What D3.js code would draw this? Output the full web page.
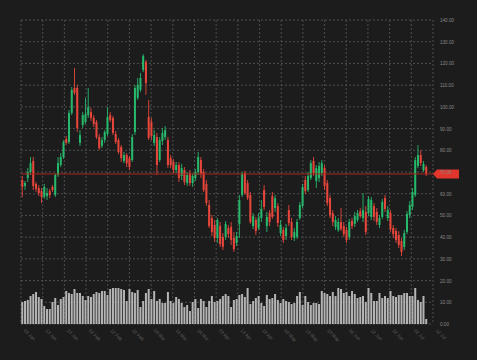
<!DOCTYPE html>
<html>
<head>
<meta charset="utf-8">
<script src="https://cdn.jsdelivr.net/npm/d3@7"></script>
<style>
  html, body { margin: 0; padding: 0; background: #1c1c1c; }
  svg { display: block; }
</style>
</head>
<body>
<div id="chart"></div>
<script>
// daily candles (price units, grid step = 10)
var open = [66.3,63.6,67.2,70.0,75.1,64.5,62.6,61.2,58.5,58.9,
  61.2,63.1,59.4,68.6,73.2,76.9,85.2,83.8,97.2,108.7,
  108.7,83.4,91.6,93.0,96.2,97.6,94.9,93.0,86.1,82.0,
  84.7,87.5,96.2,94.9,87.5,84.7,81.5,75.1,77.8,76.4,
  75.5,88.4,104.1,107.8,117.0,120.7,95.3,93.0,83.4,86.1,
  75.5,84.3,86.1,84.7,76.4,74.6,70.9,73.2,68.2,70.9,
  64.9,69.5,64.9,67.2,70.0,75.5,70.0,64.5,54.8,48.8,
  45.6,39.6,45.1,40.1,40.1,44.2,44.7,39.6,37.3,46.1,
  59.4,69.5,64.9,59.4,45.1,47.9,44.2,48.8,61.7,45.1,
  51.1,58.9,53.4,54.3,41.9,43.3,40.5,52.5,47.0,39.6,
  40.1,48.8,54.3,66.3,61.7,67.2,75.1,65.9,67.2,69.5,
  71.8,64.9,58.0,51.1,44.7,43.3,47.0,45.1,43.3,40.1,
  47.4,46.1,47.9,52.0,48.8,51.6,51.1,49.3,54.3,51.6,
  45.6,49.3,58.0,48.8,51.1,44.2,42.8,41.0,38.2,35.5,
  42.4,50.2,53.9,59.4,72.8,77.8,70.9,72.3]

var close = [63.1,64.9,70.0,74.1,63.6,62.2,60.3,58.5,63.1,60.3,
  59.4,61.7,68.6,74.1,76.9,83.8,83.4,97.2,107.8,106.4,
  90.3,87.0,96.2,96.7,99.9,94.9,92.1,86.1,81.0,84.7,
  88.4,95.3,93.9,88.0,83.8,79.2,76.4,77.8,74.1,72.3,
  86.1,108.7,110.1,113.3,123.4,111.0,85.7,86.6,87.0,73.2,
  84.7,88.0,89.3,73.2,73.2,70.9,73.2,67.2,71.8,65.4,
  68.6,64.9,68.2,70.0,76.9,69.1,61.7,55.7,45.1,42.4,
  39.6,47.9,36.8,35.5,46.1,41.4,38.7,34.5,40.5,57.1,
  69.1,60.3,58.0,47.0,49.7,42.8,48.8,53.0,53.9,49.3,
  47.0,49.3,58.0,46.5,45.6,38.7,44.2,46.5,40.1,42.4,
  47.0,54.8,63.1,61.2,68.2,74.1,69.5,71.8,72.8,74.1,
  63.6,55.7,50.2,47.0,47.9,47.0,43.7,41.4,38.7,47.0,
  45.1,49.7,51.1,49.7,52.5,42.4,57.6,57.1,49.3,47.0,
  48.8,56.2,53.0,52.5,43.7,41.4,38.7,36.4,33.2,41.9,
  50.7,54.8,60.8,75.5,77.8,74.1,73.7,69.1]

var high = [68.2,65.9,71.8,76.9,76.9,65.4,64.0,62.6,64.5,62.6,
  62.2,64.0,69.5,76.9,78.7,84.7,86.6,98.5,109.1,117.9,
  110.1,89.3,97.6,104.1,108.7,99.5,96.2,93.9,87.5,86.1,
  89.3,99.9,97.6,95.8,88.9,85.7,82.4,79.2,78.7,77.4,
  87.5,110.1,113.3,115.6,124.3,121.6,103.2,94.9,89.3,88.0,
  86.1,90.3,91.2,86.1,77.8,76.0,74.6,74.6,73.7,72.3,
  70.0,70.9,69.5,71.4,79.2,76.9,71.4,66.3,57.1,50.2,
  47.9,48.8,47.0,41.9,47.4,45.6,47.0,42.4,42.4,59.4,
  70.0,70.5,66.3,60.8,51.1,49.3,51.1,57.1,64.0,51.6,
  52.5,60.8,59.4,55.7,47.9,44.7,46.1,54.8,48.8,44.2,
  48.4,56.2,64.5,68.2,70.0,75.5,76.9,73.2,74.6,75.5,
  73.2,66.3,59.4,52.5,49.7,48.8,53.4,47.0,44.7,48.4,
  48.8,51.6,52.5,53.4,60.3,54.3,58.9,58.5,55.7,53.4,
  50.2,57.6,59.4,54.3,52.5,45.6,44.2,42.8,39.6,43.3,
  52.0,56.6,62.6,76.9,82.4,80.1,75.1,73.2]

var low = [58.5,61.7,65.4,68.6,61.7,60.8,58.9,55.7,57.6,57.1,
  58.0,60.8,58.5,67.7,72.3,76.0,82.4,82.9,96.2,105.5,
  88.4,82.0,90.3,92.1,94.9,93.5,90.7,85.2,80.1,81.0,
  83.4,86.6,93.0,87.0,82.9,78.3,74.6,74.1,72.3,70.9,
  74.6,87.0,103.2,106.8,116.0,105.5,84.7,84.7,82.0,68.6,
  74.6,82.4,84.7,71.8,71.8,69.5,69.5,65.4,66.3,64.0,
  63.6,63.6,63.1,65.9,68.6,67.2,60.8,54.3,44.2,40.5,
  37.8,37.3,35.5,34.1,38.7,39.6,36.4,33.2,35.9,39.6,
  58.5,59.4,57.1,46.1,43.7,41.0,43.3,47.0,52.5,42.4,
  45.1,48.4,51.6,44.7,40.5,37.3,38.7,45.1,38.7,38.2,
  39.1,47.9,53.4,59.9,60.8,66.3,68.2,62.6,65.4,68.2,
  61.7,54.3,48.8,45.1,43.3,42.4,42.8,40.1,37.3,38.7,
  43.7,44.7,47.0,48.8,47.0,41.0,49.7,47.9,47.4,45.6,
  44.2,48.4,51.6,47.4,42.4,39.6,37.3,35.0,31.3,34.1,
  41.4,48.8,52.5,58.5,71.8,72.8,70.0,68.2]

// volume, thousands
var volume = [22,23,24,28,30,32,27,25,18,15,
  15,22,26,19,25,27,33,31,30,35,
  31,31,28,24,28,27,30,32,31,33,
  33,29,35,36,36,36,35,34,23,35,
  32,31,34,17,23,31,35,25,33,23,
  25,21,21,32,23,21,27,25,21,17,
  19,13,22,25,16,25,23,17,23,28,
  22,23,25,28,30,28,17,24,25,29,
  30,27,36,20,23,26,28,21,18,29,
  25,26,30,24,21,25,23,22,20,21,
  28,32,19,28,22,19,21,21,20,33,
  31,30,28,32,28,36,35,31,32,28,
  33,30,26,27,28,22,36,31,23,23,
  31,26,28,26,33,28,27,29,29,31,
  31,28,28,36,24,22,28,5]

var priceTicks = [0,10,20,30,40,50,60,70,80,90,100,110,120,130,140]
var dateLabels = ['03 Jan','13 Jan','23 Jan','02 Feb','12 Feb','22 Feb','04 Mar','14 Mar',
  '24 Mar','03 Apr','13 Apr','23 Apr','03 May','13 May','23 May','02 Jun',
  '12 Jun','22 Jun','02 Jul','12 Jul']
var lastPrice = 69.1

var WIDTH = 477
var HEIGHT = 360
var margin = { top: 20, right: 44, bottom: 36, left: 21 }
var UP = '#27b86c'
var DOWN = '#e8463b'

var x0 = margin.left
var x1 = WIDTH - margin.right
var y0 = margin.top
var y1 = HEIGHT - margin.bottom

var svg = d3.select('#chart').append('svg')
  .attr('width', WIDTH)
  .attr('height', HEIGHT)
  .style('font-family', 'DejaVu Sans, sans-serif')

svg.append('rect')
  .attr('width', WIDTH)
  .attr('height', HEIGHT)
  .attr('fill', '#1c1c1c')

var candles = d3.range(open.length).map(function (i) {
  return { i: i, o: open[i], c: close[i], h: high[i], l: low[i], v: volume[i] }
})

var x = d3.scaleBand()
  .domain(d3.range(candles.length))
  .range([x0, x1 - 5.5])
  .paddingInner(0.27)
  .paddingOuter(0.1)

var xDate = d3.scalePoint()
  .domain(dateLabels)
  .range([x0, x1])

var y = d3.scaleLinear()
  .domain([0, 140])
  .range([y1, y0])

var yVol = d3.scaleLinear()
  .domain([0, 44])
  .range([y1, y1 - 44])

// dotted grid
var grid = svg.append('g').attr('class', 'grid')
  .attr('stroke', '#4e4e4e')
  .attr('stroke-width', 1)
  .attr('stroke-dasharray', '2,2')

grid.selectAll('line.h').data(priceTicks).enter().append('line')
  .attr('class', 'h')
  .attr('x1', x0).attr('x2', x1)
  .attr('y1', function (d) { return y(d) })
  .attr('y2', function (d) { return y(d) })

grid.selectAll('line.v').data(dateLabels).enter().append('line')
  .attr('class', 'v')
  .attr('y1', y0).attr('y2', y1)
  .attr('x1', function (d) { return xDate(d) })
  .attr('x2', function (d) { return xDate(d) })

// volume
svg.append('g').attr('class', 'volume')
  .selectAll('rect').data(candles).enter().append('rect')
  .attr('x', function (d) { return x(d.i) })
  .attr('width', x.bandwidth())
  .attr('y', function (d) { return yVol(d.v) })
  .attr('height', function (d) { return y1 - yVol(d.v) })
  .attr('fill', '#b4b4b4')

// candles
var cg = svg.append('g').attr('class', 'data')
  .selectAll('g').data(candles).enter().append('g')

cg.append('line')
  .attr('x1', function (d) { return x(d.i) + x.bandwidth() / 2 })
  .attr('x2', function (d) { return x(d.i) + x.bandwidth() / 2 })
  .attr('y1', function (d) { return y(d.h) })
  .attr('y2', function (d) { return y(d.l) })
  .attr('stroke', function (d) { return d.c >= d.o ? UP : DOWN })
  .attr('stroke-width', 0.9)

cg.append('rect')
  .attr('x', function (d) { return x(d.i) })
  .attr('width', x.bandwidth())
  .attr('y', function (d) { return y(Math.max(d.o, d.c)) })
  .attr('height', function (d) { return Math.max(1, Math.abs(y(d.o) - y(d.c))) })
  .attr('fill', function (d) { return d.c >= d.o ? UP : DOWN })

// last price line + marker
svg.append('line')
  .attr('x1', x0).attr('x2', x1)
  .attr('y1', y(lastPrice)).attr('y2', y(lastPrice))
  .attr('stroke', '#a8291f')
  .attr('stroke-width', 1)

var ly = y(lastPrice)
svg.append('path')
  .attr('d', 'M' + x1 + ',' + ly + 'L' + (x1 + 4) + ',' + (ly - 4.5) + 'H' + (WIDTH - 18) +
    'V' + (ly + 4.5) + 'H' + (x1 + 4) + 'Z')
  .attr('fill', '#e2352b')

// price axis on the right
var yAxis = svg.append('g')
  .attr('transform', 'translate(' + x1 + ',0)')
  .call(d3.axisRight(y).tickValues(priceTicks).tickSize(0).tickPadding(7)
    .tickFormat(d3.format('.2f')))
yAxis.select('.domain').remove()
yAxis.selectAll('text')
  .attr('fill', '#8a8a8a')
  .style('font-size', '4.6px')

// date axis, slanted labels
var xAxis = svg.append('g')
  .attr('transform', 'translate(0,' + (y1 + 6) + ')')
  .call(d3.axisBottom(xDate).tickSize(0).tickPadding(0))
xAxis.select('.domain').remove()
xAxis.selectAll('text')
  .attr('x', 0).attr('y', 0).attr('dy', 0)
  .attr('transform', 'translate(2,1) rotate(45)')
  .style('text-anchor', 'start')
  .style('font-size', '4.6px')
  .attr('fill', '#5c5c5c')
</script>
</body>
</html>
